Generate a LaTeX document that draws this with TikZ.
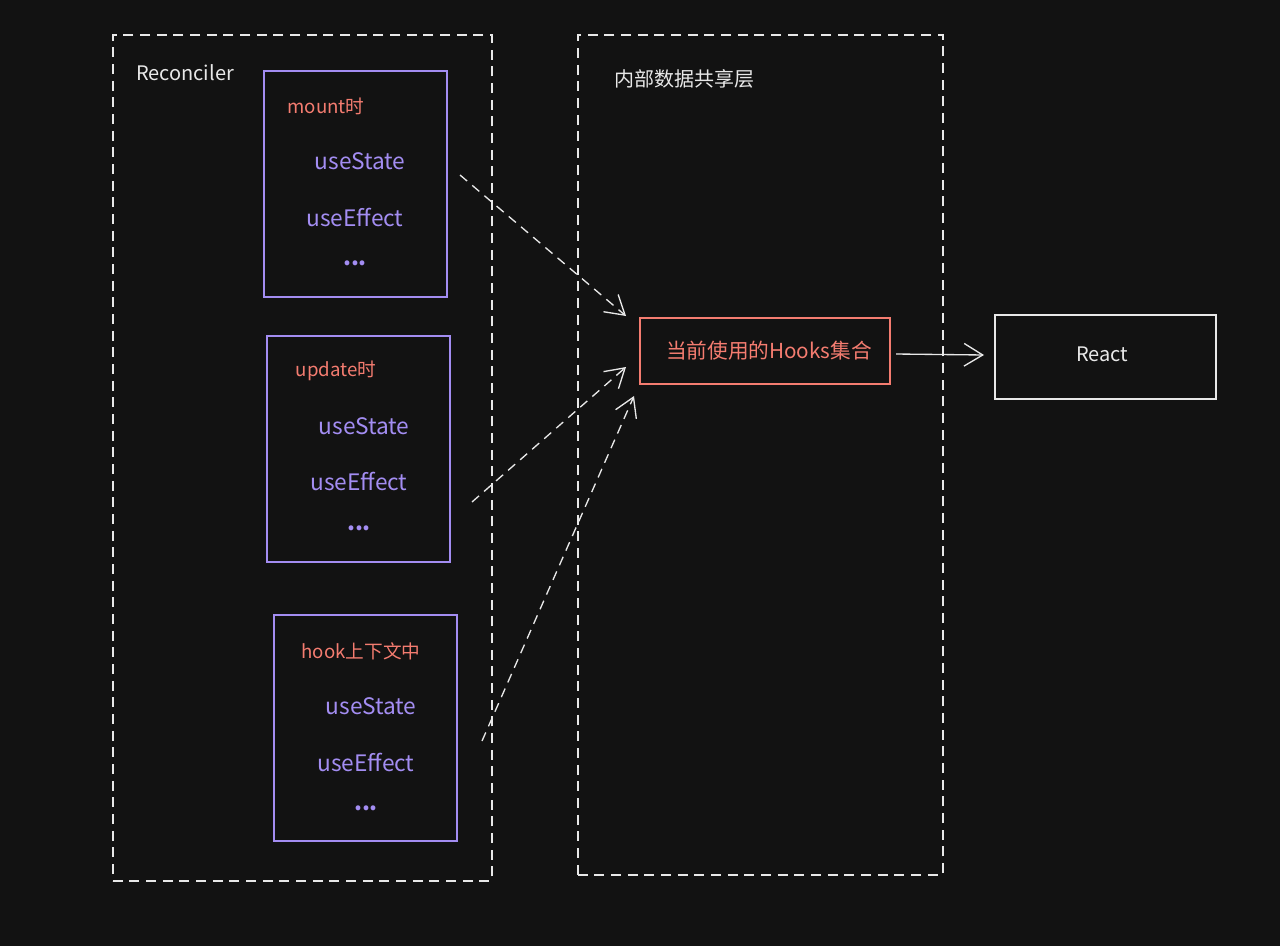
\documentclass[tikz,border=0pt]{standalone}
\usepackage{fontspec}
\setmainfont{Noto Sans CJK SC}
\usetikzlibrary{arrows.meta}
\definecolor{bg}{HTML}{121212}
\definecolor{ink}{HTML}{E8E8E8}
\definecolor{vio}{HTML}{A38DF2}
\definecolor{rd}{HTML}{F47C70}
\tikzset{
  region/.style={draw=ink, dash pattern=on 7.5pt off 5pt, line width=1.2pt},
  hookbox/.style={draw=vio, line width=1.4pt, minimum width=183*0.75pt, minimum height=226*0.75pt, anchor=north west},
  title/.style={text=rd, font=\fontsize{14}{16}\selectfont},
  item/.style={text=vio, font=\fontsize{17}{19}\selectfont},
  dots/.style={text=vio, font=\bfseries\fontsize{17}{19}\selectfont},
  lbl/.style={text=ink, font=\fontsize{15}{17}\selectfont},
  flow/.style={draw=ink, line width=1pt, dash pattern=on 7pt off 5pt, -{Straight Barb[length=14pt, width=17pt, line width=1pt]}},
  solidflow/.style={draw=ink, line width=1pt, -{Straight Barb[length=14pt, width=17pt, line width=1pt]}},
}
\begin{document}
\begin{tikzpicture}[x=0.75pt, y=-0.75pt]
\fill[bg] (0,0) rectangle (1280,946);
\useasboundingbox (0,0) rectangle (1280,946);
% regions
\node[region, anchor=north west, minimum width=379*0.75pt, minimum height=846*0.75pt, inner sep=0pt] (rec) at (112,34) {};
\node[region, anchor=north west, minimum width=365*0.75pt, minimum height=840*0.75pt, inner sep=0pt] (shared) at (577,34) {};
\node[lbl] (reclbl) at (185,73) {Reconciler};
\node[lbl] (sharedlbl) at (684,79) {内部数据共享层};
% mount box
\node[hookbox, inner sep=0pt] (mount) at (263,70) {};
\node[title] (mountt) at (326,106) {mount时};
\node[item] (mounts) at (360,161) {useState};
\node[item] (mounte) at (355,217) {useEffect};
\node[dots] (mountd) at (355,263) {...};
% update box
\node[hookbox, inner sep=0pt] (update) at (266,335) {};
\node[title] (updatet) at (336,371) {update时};
\node[item] (updates) at (364,426) {useState};
\node[item] (updatee) at (359,481) {useEffect};
\node[dots] (updated) at (359,528) {...};
% hook ctx box
\node[hookbox, inner sep=0pt] (ctx) at (273,614) {};
\node[title] (ctxt) at (361,651) {hook上下文中};
\node[item] (ctxs) at (371,706) {useState};
\node[item] (ctxe) at (366,762) {useEffect};
\node[dots] (ctxd) at (366,808) {...};
% hooks set
\node[draw=rd, line width=1.4pt, anchor=north west, minimum width=250*0.75pt, minimum height=66*0.75pt, inner sep=0pt] (hooks) at (639,317) {};
\node[text=rd, font=\fontsize{15.5}{17}\selectfont] (hookst) at (769,351) {当前使用的Hooks集合};
% react
\node[draw=ink, line width=1.4pt, anchor=north west, minimum width=221*0.75pt, minimum height=84*0.75pt, inner sep=0pt] (react) at (994,314) {};
\node[lbl] (reactt) at (1102,354) {React};
% connector endpoints
\coordinate (s1) at (460,175);
\coordinate (e1) at (626,316);
\coordinate (s2) at (472,502);
\coordinate (e2) at (626,367);
\coordinate (s3) at (482,741);
\coordinate (e3) at (634,396);
\coordinate (s4) at (896,354);
\coordinate (e4) at (984,355);
\draw[flow] (s1) -- (e1);
\draw[flow] (s2) -- (e2);
\draw[flow] (s3) -- (e3);
\draw[solidflow] (s4) -- (e4);
\end{tikzpicture}
\end{document}
